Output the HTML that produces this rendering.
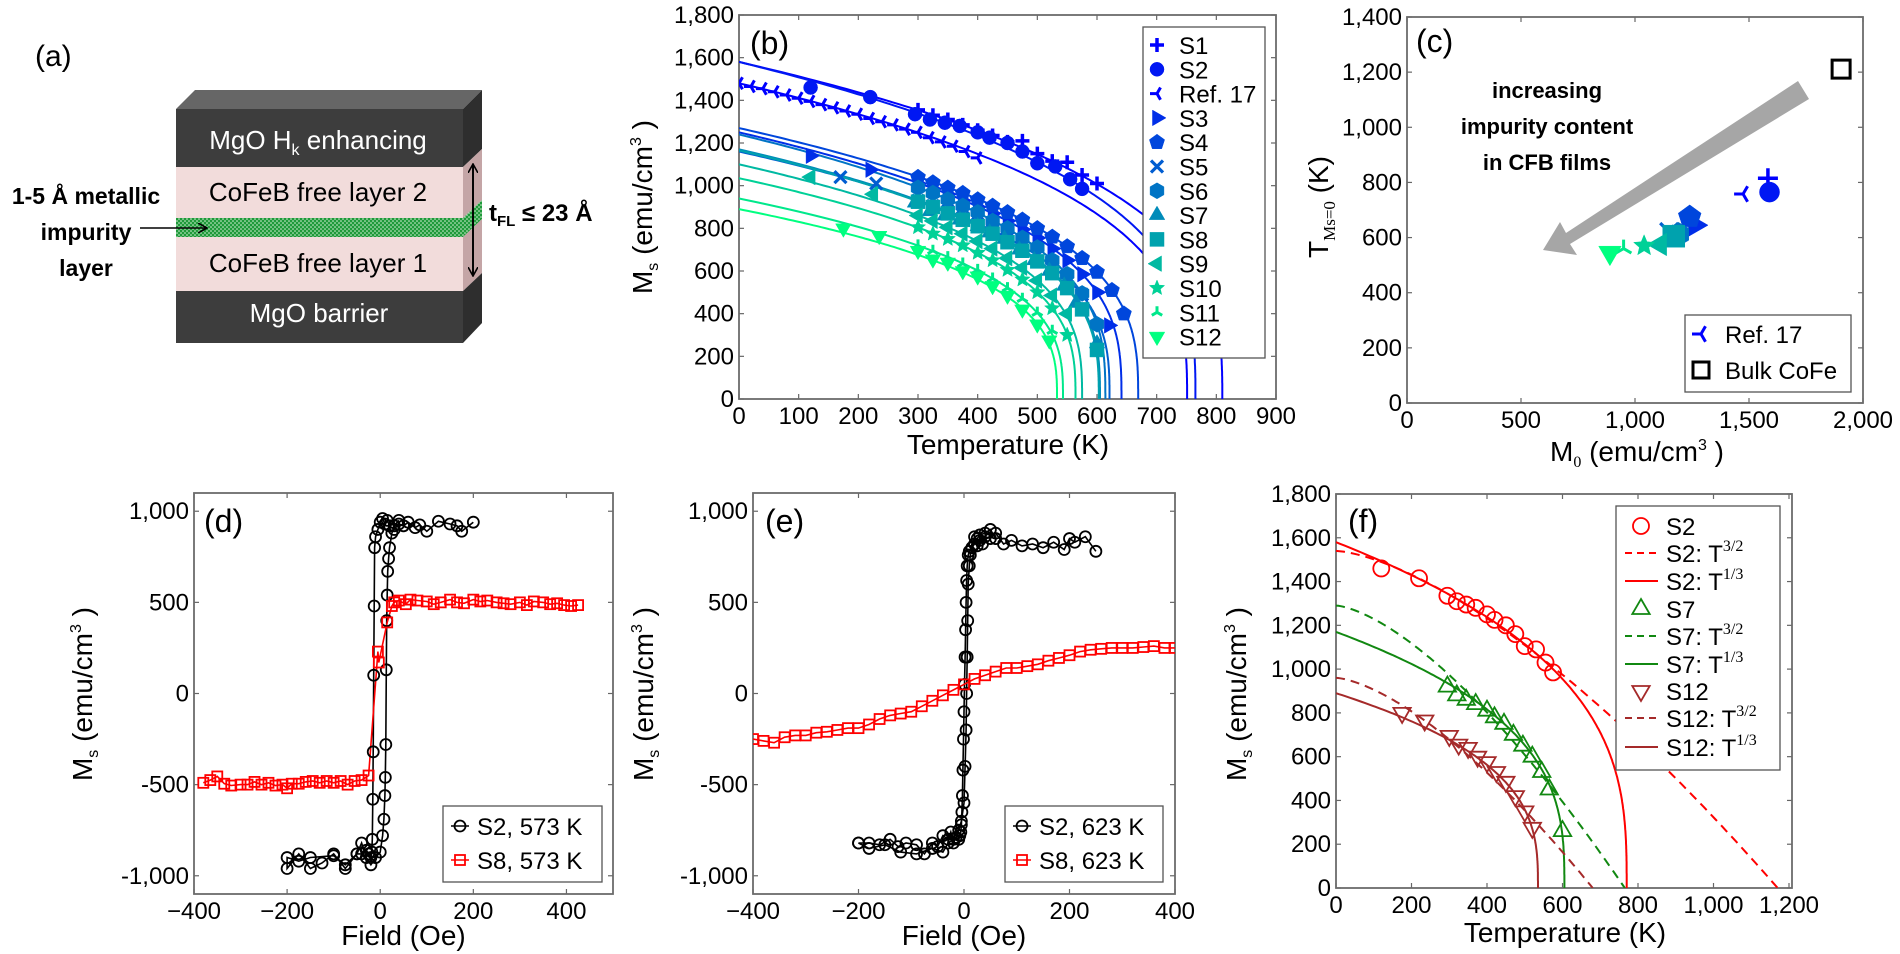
<!DOCTYPE html>
<html><head><meta charset="utf-8"><title>CoFeB free layer impurity study</title>
<style>
html,body{margin:0;padding:0;background:#fff;}
svg{display:block;font-family:"Liberation Sans",sans-serif;}
</style></head>
<body>
<svg id="fig" width="1900" height="954" viewBox="0 0 1900 954" xmlns="http://www.w3.org/2000/svg">
<defs>
<pattern id="dots" width="4" height="4" patternUnits="userSpaceOnUse">
<rect width="4" height="4" fill="#1f9a3a"/><circle cx="1" cy="1" r="0.8" fill="#d8f0d8"/><circle cx="3" cy="3" r="0.8" fill="#d8f0d8"/>
</pattern>
<clipPath id="clipB"><rect x="739" y="15" width="537" height="384"/></clipPath>
<clipPath id="clipD"><rect x="194" y="493" width="419" height="401"/></clipPath>
<clipPath id="clipE"><rect x="753" y="493" width="422" height="401"/></clipPath>
<clipPath id="clipF"><rect x="1336" y="494" width="456" height="394"/></clipPath>
<marker id="ah" markerWidth="10" markerHeight="10" refX="9" refY="5" orient="auto" markerUnits="userSpaceOnUse"><path d="M0,0 L9,5 L0,10" fill="none" stroke="#000" stroke-width="1.6"/></marker>
</defs>

<!-- Panel (a) -->
<g>
<text x="35" y="66" font-size="30">(a)</text>
<polygon points="176,109 195,90 482,90 463,109" fill="#666"/>
<polygon points="463,109 482,90 482,149 463,167" fill="#2e2e2e"/>
<polygon points="463,167 482,149 482,200 463,218" fill="#c4a5a6"/>
<polygon points="463,218 482,200 482,219 463,237" fill="url(#dots)"/>
<polygon points="463,237 482,219 482,273 463,291" fill="#c4a5a6"/>
<polygon points="463,291 482,273 482,323 463,343" fill="#2e2e2e"/>
<rect x="176" y="109" width="287" height="58" fill="#3d3d3d"/>
<rect x="176" y="167" width="287" height="51" fill="#f2dcdb"/>
<rect x="176" y="218" width="287" height="19" fill="url(#dots)"/>
<rect x="176" y="237" width="287" height="54" fill="#f2dcdb"/>
<rect x="176" y="291" width="287" height="52" fill="#3d3d3d"/>
<text x="318" y="149" font-size="26" fill="#fff" text-anchor="middle">MgO  H<tspan font-size="16" dy="6">k</tspan><tspan dy="-6"> enhancing</tspan></text>
<text x="318" y="201" font-size="26" fill="#000" text-anchor="middle">CoFeB free layer 2</text>
<text x="318" y="272" font-size="26" fill="#000" text-anchor="middle">CoFeB free layer 1</text>
<text x="319" y="322" font-size="26" fill="#fff" text-anchor="middle">MgO barrier</text>
<g font-size="23" font-weight="bold" text-anchor="middle">
<text x="86" y="204">1-5 Å metallic</text>
<text x="86" y="240">impurity</text>
<text x="86" y="276">layer</text>
</g>
<line x1="140" y1="228" x2="207" y2="228" stroke="#000" stroke-width="1.6" marker-end="url(#ah)"/>
<line x1="473" y1="164" x2="473" y2="276" stroke="#000" stroke-width="1.8" marker-end="url(#ah)"/>
<line x1="473" y1="276" x2="473" y2="164" stroke="#000" stroke-width="1.8" marker-end="url(#ah)"/>
<text x="489" y="221" font-size="24" font-weight="bold">t<tspan font-size="15" dy="5">FL</tspan><tspan dy="-5"> ≤ 23 Å</tspan></text>
</g>
</svg>
<script>
// ================= DATA =================
// Panel (b): Ms vs T, order: S1,S2,Ref17,S3..S12
const bS1_T=[300,325,350,375,400,425,450,475,500,525,550,575,600];
const bS1_M=[1355,1330,1310,1285,1260,1235,1205,1210,1150,1115,1110,1050,1010];
const bS2_T=[120,220,295,320,345,370,400,420,450,475,500,530,555,575];
const bS2_M=[1460,1415,1335,1310,1295,1280,1250,1225,1200,1160,1105,1090,1030,985];
const bRef_T=[0,20,40,60,80,100,120,140,160,180,200,220,240,260,280,300,320,340,360,380,400];
const bRef_M=[1480,1465,1455,1440,1425,1410,1395,1380,1365,1350,1335,1315,1300,1285,1265,1250,1225,1205,1185,1160,1130];
const bS3_T=[120,220,300,325,350,375,400,425,450,475,500,525,550,575,600,620];
const bS3_M=[1140,1075,1010,985,960,930,900,870,835,795,755,705,650,585,500,345];
const bS4_T=[300,325,350,375,400,425,450,475,500,525,550,575,600,625,645];
const bS4_M=[1040,1015,990,965,935,905,875,840,800,760,715,660,595,510,400];
const bS5_T=[170,230,300,325,350,375,400,425,450,475,500,525,550,575];
const bS5_M=[1040,1010,930,905,880,850,820,790,755,715,675,625,565,490];
const bS6_T=[300,325,350,375,400,425,450,475,500,525,550,575,600];
const bS6_M=[990,965,935,905,875,835,800,755,710,650,585,495,350];
const bS7_T=[295,320,345,370,400,420,445,470,495,520,545,565,600];
const bS7_M=[920,880,860,840,810,780,750,700,650,600,530,450,260];
const bS8_T=[300,325,350,375,400,425,450,475,500,525,550,575,600];
const bS8_M=[925,900,870,840,810,775,735,695,645,590,520,420,230];
const bS9_T=[120,225,300,325,350,375,400,425,450,475,500,525,550];
const bS9_M=[1040,960,860,835,805,775,740,705,660,615,555,485,400];
const bS10_T=[300,325,350,375,400,425,450,475,500,525,550];
const bS10_M=[805,775,750,720,685,650,605,560,500,425,300];
const bS11_T=[300,325,350,375,400,425,450,475,500,525];
const bS11_M=[720,695,665,635,605,565,520,470,405,320];
const bS12_T=[175,235,300,325,350,375,400,425,450,475,500,520];
const bS12_M=[800,765,695,655,640,600,575,530,485,420,350,275];
const bFitM0=[1580,1580,1480,1250,1270,1160,1240,1170,1165,1100,1035,940,890];
const bFitTc=[810,765,751,641,669,621,614,605,603,575,564,543,533];
const bNames=['S1','S2','Ref. 17','S3','S4','S5','S6','S7','S8','S9','S10','S11','S12'];
const bXTicks=[0,100,200,300,400,500,600,700,800,900];
const bYTicks=[0,200,400,600,800,1000,1200,1400,1600,1800];
const bXLabels=['0','100','200','300','400','500','600','700','800','900'];
const bYLabels=['0','200','400','600','800','1,000','1,200','1,400','1,600','1,800'];
// Panel (c): T(Ms=0) vs M0
const cM0=[1583,1590,1474,1263,1240,1150,1190,1165,1170,1110,1040,950,890];
const cTc=[815,765,758,645,675,620,612,600,605,575,570,560,545];
const cBulkM0=[1904];
const cBulkT=[1211];
const cXTicks=[0,500,1000,1500,2000];
const cXLabels=['0','500','1,000','1,500','2,000'];
const cYTicks=[0,200,400,600,800,1000,1200,1400];
const cYLabels=['0','200','400','600','800','1,000','1,200','1,400'];
// Panel (d): hysteresis 573 K
const dS2_H=[200,175,165,150,125,100,85,75,60,50,40,30,20,15,10,5,0,-5,-10,-12,-13,-14,-15,-16,-17,-18,-20,-25,-30,-40,-50,-75,-100,-125,-150,-175,-200,-200,-175,-150,-100,-75,-50,-40,-30,-20,-10,0,5,8,10,11,12,13,14,15,16,18,20,25,30,40];
const dS2_M=[940,890,920,930,945,890,925,910,940,920,930,900,920,950,930,960,940,900,860,800,480,100,-320,-580,-800,-870,-900,-880,-860,-880,-880,-960,-880,-930,-960,-880,-960,-900,-920,-900,-890,-940,-880,-820,-900,-940,-900,-870,-780,-690,-560,-460,-280,130,400,540,670,740,800,880,920,950];
const dS8_H=[-380,-365,-350,-335,-320,-300,-285,-270,-255,-240,-225,-210,-200,-190,-175,-160,-145,-130,-115,-100,-85,-70,-55,-40,-25,-5,-3,15,25,30,40,55,65,80,100,115,130,150,165,180,200,215,230,250,265,280,300,315,330,350,365,380,395,410,425];
const dS8_M=[-490,-475,-455,-495,-505,-500,-500,-485,-500,-490,-505,-500,-520,-495,-495,-485,-480,-490,-480,-490,-480,-500,-480,-475,-450,230,170,390,480,500,510,490,515,510,505,490,500,515,500,495,515,505,510,500,495,490,500,485,505,500,490,495,485,480,485];
const dXTicks=[-400,-200,0,200,400];
const dXLabels=['\u2212400','\u2212200','0','200','400'];
const dYTicks=[-1000,-500,0,500,1000];
const dYLabels=['-1,000','-500','0','500','1,000'];
// Panel (e): hysteresis 623 K
const eS2_H=[250,230,210,200,190,170,150,130,110,90,75,60,50,40,35,30,25,20,15,10,8,6,5,4,3,2,1,0,-1,-2,-3,-4,-5,-6,-8,-10,-15,-20,-25,-30,-40,-50,-60,-75,-90,-110,-125,-140,-160,-180,-200,-200,-180,-150,-120,-90,-60,-40,-30,-20,-15,-10,-5,0,2,4,5,6,7,8,10,12,15,20,25,30,40,50,60];
const eS2_M=[780,860,830,850,790,830,800,820,810,840,820,880,850,860,820,840,810,860,800,780,760,700,620,500,350,200,50,-100,-250,-420,-560,-650,-720,-760,-780,-800,-790,-820,-760,-800,-780,-840,-820,-880,-830,-820,-840,-800,-830,-820,-820,-820,-850,-830,-870,-880,-850,-870,-820,-800,-790,-750,-700,-600,-400,-200,0,200,400,600,700,760,800,820,850,870,880,900,850];
const eS8_H=[-400,-380,-360,-340,-320,-300,-280,-260,-240,-220,-200,-180,-160,-140,-120,-100,-80,-60,-40,-20,0,20,40,60,80,100,120,140,160,180,200,220,240,260,280,300,320,340,360,380,400];
const eS8_M=[-250,-260,-270,-240,-230,-230,-215,-210,-200,-190,-190,-170,-140,-120,-110,-100,-70,-40,-10,20,50,80,100,120,140,140,150,160,180,195,210,230,240,245,250,250,250,255,260,250,250];
const eXTicks=[-400,-200,0,200,400];
const eXLabels=['\u2212400','\u2212200','0','200','400'];
// Panel (f)
const fS2_T=[120,220,295,320,345,370,400,420,450,475,500,530,555,575];
const fS2_M=[1460,1415,1335,1310,1295,1280,1250,1225,1200,1160,1105,1090,1030,985];
const fS7_T=[295,320,345,370,400,420,445,470,495,520,545,565,600];
const fS7_M=[920,880,860,840,810,780,750,700,650,600,530,450,260];
const fS12_T=[175,235,300,325,350,375,400,425,450,475,500,520];
const fS12_M=[800,765,695,655,640,600,575,530,485,420,350,275];
const fSolidM0=[1580,1170,890];
const fSolidTc=[770,605,535];
const fDashM0=[1540,1290,960];
const fDashT0=[1170,765,680];
const fXTicks=[0,200,400,600,800,1000,1200];
const fXLabels=['0','200','400','600','800','1,000','1,200'];
const fYTicks=[0,200,400,600,800,1000,1200,1400,1600,1800];
const fYLabels=['0','200','400','600','800','1,000','1,200','1,400','1,600','1,800'];

// ================= DRAWING =================
const NS='http://www.w3.org/2000/svg';
const svg=document.getElementById('fig');
function mk(tag,attrs,parent){const e=document.createElementNS(NS,tag);for(const k in attrs)e.setAttribute(k,attrs[k]);(parent||svg).appendChild(e);return e;}
function txt(parent,str,x,y,size,anchor){const t=mk('text',{x:x,y:y,'font-size':size,'text-anchor':anchor||'start',fill:'#000'},parent);t.textContent=str;return t;}
function poly(n,s,rot,x,y){let p=[];for(let k=0;k<n;k++){const a=(rot+k*360/n)*Math.PI/180;p.push((x+s*Math.cos(a)).toFixed(1)+','+(y+s*Math.sin(a)).toFixed(1));}return p.join(' ');}
function starPts(s,x,y){let p=[];for(let k=0;k<10;k++){const r=k%2?s*0.45:s;const a=(-90+k*36)*Math.PI/180;p.push((x+r*Math.cos(a)).toFixed(1)+','+(y+r*Math.sin(a)).toFixed(1));}return p.join(' ');}
function spokes(s,x,y,rot){let d='';for(let k=0;k<3;k++){const a=(rot+k*120)*Math.PI/180;d+=`M${x},${y}L${(x+s*Math.cos(a)).toFixed(1)},${(y+s*Math.sin(a)).toFixed(1)}`;}return d;}
function marker(parent,type,x,y,s,color,open){
  const fill=open?'none':color, sw=open?1.8:0.5;
  if(type==='circle')return mk('circle',{cx:x,cy:y,r:s,fill:fill,stroke:color,'stroke-width':sw},parent);
  if(type==='square')return mk('rect',{x:x-s,y:y-s,width:2*s,height:2*s,fill:fill,stroke:color,'stroke-width':sw},parent);
  if(type==='plus')return mk('path',{d:`M${x-s},${y}H${x+s}M${x},${y-s}V${y+s}`,stroke:color,'stroke-width':3.5,fill:'none'},parent);
  if(type==='x')return mk('path',{d:`M${x-s},${y-s}L${x+s},${y+s}M${x-s},${y+s}L${x+s},${y-s}`,stroke:color,'stroke-width':3.2,fill:'none'},parent);
  if(type==='tri_up')return mk('polygon',{points:poly(3,s,-90,x,y),fill:fill,stroke:color,'stroke-width':sw},parent);
  if(type==='tri_down')return mk('polygon',{points:poly(3,s,90,x,y),fill:fill,stroke:color,'stroke-width':sw},parent);
  if(type==='tri_left')return mk('polygon',{points:poly(3,s,180,x,y),fill:fill,stroke:color,'stroke-width':sw},parent);
  if(type==='tri_right')return mk('polygon',{points:poly(3,s,0,x,y),fill:fill,stroke:color,'stroke-width':sw},parent);
  if(type==='pentagon')return mk('polygon',{points:poly(5,s,-90,x,y),fill:fill,stroke:color,'stroke-width':sw},parent);
  if(type==='hexagon')return mk('polygon',{points:poly(6,s,-90,x,y),fill:fill,stroke:color,'stroke-width':sw},parent);
  if(type==='star')return mk('polygon',{points:starPts(s,x,y),fill:fill,stroke:color,'stroke-width':sw},parent);
  if(type==='spoke_left')return mk('path',{d:spokes(s,x,y,180),stroke:color,'stroke-width':3,fill:'none'},parent);
  if(type==='spoke_up')return mk('path',{d:spokes(s,x,y,-90),stroke:color,'stroke-width':3,fill:'none'},parent);
}
function axes(name,L,R,T,B,X,Y,xt,xl,yt,yl){
  const g=mk('g',{});
  
  
  xt.forEach((v,i)=>{const x=X(v);
    mk('line',{x1:x,y1:B,x2:x,y2:B-5,stroke:'#666','stroke-width':1.2},g);
    mk('line',{x1:x,y1:T,x2:x,y2:T+5,stroke:'#666','stroke-width':1.2},g);
    const t=txt(g,xl[i],x,B+25,24,'middle');
    
    
  });
  yt.forEach((v,i)=>{const y=Y(v);
    mk('line',{x1:L,y1:y,x2:L+5,y2:y,stroke:'#666','stroke-width':1.2},g);
    mk('line',{x1:R,y1:y,x2:R-5,y2:y,stroke:'#666','stroke-width':1.2},g);
    const t=txt(g,yl[i],L-5,y+8,24,'end');
    
    
  });
  const fr=mk('rect',{x:L,y:T,width:R-L,height:B-T,fill:'none',stroke:'#6b6b6b','stroke-width':1.8},g);
  
  
  return g;
}
function msTitle(x,y,name){
  const t=mk('text',{x:0,y:0,'font-size':28,'text-anchor':'middle',transform:`translate(${x},${y}) rotate(-90)`});
  t.innerHTML='M<tspan font-size="16" dy="6">s</tspan><tspan dy="-6"> (emu/cm</tspan><tspan font-size="16" dy="-11">3</tspan><tspan dy="11"> )</tspan>';
  
  
}
function fitPath(M0,Tc,X,Y){let d='';for(let i=0;i<=200;i++){const u=i/200;const T=Tc*(1-Math.pow(1-u,3));const M=M0*Math.cbrt(Math.max(0,1-T/Tc));d+=(i?'L':'M')+X(T).toFixed(1)+','+Y(M).toFixed(1);}return d;}
function dashPath(M0,T0,X,Y){let d='';for(let i=0;i<=120;i++){const T=T0*i/120;const M=M0*(1-Math.pow(T/T0,1.5));d+=(i?'L':'M')+X(T).toFixed(1)+','+Y(M).toFixed(1);}return d;}
function rgb(k){const t=k/11;return `rgb(0,${Math.round(255*t)},${Math.round(255*(1-0.5*t))})`;}

// ---------- Panel (b) ----------
(function(){
  const L=739,R=1276,T=15,B=399;
  const X=v=>L+v*(R-L)/900, Y=v=>B-v*(B-T)/1800;
  axes('panel-b',L,R,T,B,X,Y,bXTicks,bXLabels,bYTicks,bYLabels);
  const cols=[rgb(0),rgb(1),'rgb(0,0,255)',rgb(2),rgb(3),rgb(4),rgb(5),rgb(6),rgb(7),rgb(8),rgb(9),rgb(10),rgb(11)];
  const types=['plus','circle','spoke_left','tri_right','pentagon','x','hexagon','tri_up','square','tri_left','star','spoke_up','tri_down'];
  const sizes=[7,7,7,9,8,6,8,9,7,9,8,6,9];
  const Ts=[bS1_T,bS2_T,bRef_T,bS3_T,bS4_T,bS5_T,bS6_T,bS7_T,bS8_T,bS9_T,bS10_T,bS11_T,bS12_T];
  const Ms=[bS1_M,bS2_M,bRef_M,bS3_M,bS4_M,bS5_M,bS6_M,bS7_M,bS8_M,bS9_M,bS10_M,bS11_M,bS12_M];
  const gc=mk('g',{'clip-path':'url(#clipB)'});
  
  
  for(let i=0;i<13;i++){
    const p=mk('path',{d:fitPath(bFitM0[i],bFitTc[i],X,Y),fill:'none',stroke:cols[i],'stroke-width':2},gc);
    
    
  }
  for(let i=0;i<13;i++){
    Ts[i].forEach((t,j)=>{
      const m=marker(gc,types[i],X(t),Y(Ms[i][j]),sizes[i],cols[i],false);
      
      
    });
  }
  const lab=txt(svg,'(b)',750,54,32,'start');
  
  
  const lg=mk('g',{});
  
  
  mk('rect',{x:1143,y:27,width:122,height:331,fill:'#fff',stroke:'#555','stroke-width':1.3},lg);
  for(let i=0;i<13;i++){
    const y=45+i*24.3;
    const m=marker(lg,types[i],1157,y,sizes[i],cols[i],false);
    
    
    const t=txt(lg,bNames[i],1179,y+9,24,'start');
    
    
  }
  const xt=txt(svg,'Temperature (K)',1008,454,28,'middle');
  
  
  msTitle(652,207,'panel-b-y-axis-title');
})();

// ---------- Panel (c) ----------
(function(){
  const L=1407,R=1863,T=17,B=403;
  const X=v=>L+v*(R-L)/2000, Y=v=>B-v*(B-T)/1400;
  axes('panel-c',L,R,T,B,X,Y,cXTicks,cXLabels,cYTicks,cYLabels);
  const ar=mk('polygon',{points:'1798,81 1809,99 1570,244 1577,255 1543,250 1560,222 1566,233',fill:'#a6a6a6'});
  
  
  const tg=mk('g',{'font-size':22,'font-weight':'bold'});
  
  
  txt(tg,'increasing',1547,98,22,'middle');
  txt(tg,'impurity content',1547,134,22,'middle');
  txt(tg,'in CFB films',1547,170,22,'middle');
  const cols=['rgb(0,0,255)',rgb(1),'rgb(0,0,255)',rgb(2),rgb(3),rgb(4),rgb(5),rgb(6),rgb(7),rgb(8),rgb(9),rgb(10),rgb(11)];
  const types=['plus','circle','spoke_left','tri_right','pentagon','x','hexagon','tri_up','square','tri_left','star','spoke_up','tri_down'];
  const sizes=[10,10,9,13,12,9,12,13,11,13,11,9,13];
  for(let i=0;i<13;i++){
    const m=marker(svg,types[i],X(cM0[i]),Y(cTc[i]),sizes[i],cols[i],false);
    
    
  }
  cBulkM0.forEach((v,i)=>{
    const m=mk('rect',{x:X(v)-9,y:Y(cBulkT[i])-9,width:18,height:18,fill:'none',stroke:'#000','stroke-width':3});
    
    
  });
  const lab=txt(svg,'(c)',1416,52,32,'start');
  
  
  const lg=mk('g',{});
  
  
  mk('rect',{x:1685,y:315,width:166,height:77,fill:'#fff',stroke:'#555','stroke-width':1.3},lg);
  const m1=marker(lg,'spoke_left',1701,334,9,'rgb(0,0,255)',false);
  
  
  const t1=txt(lg,'Ref. 17',1725,343,24,'start');
  
  
  const m2=mk('rect',{x:1693,y:362,width:16,height:16,fill:'none',stroke:'#000','stroke-width':3},lg);
  
  
  const t2=txt(lg,'Bulk CoFe',1725,379,24,'start');
  
  
  const xt=mk('text',{x:1637,y:461,'font-size':28,'text-anchor':'middle'});
  xt.innerHTML='M<tspan font-size="16" dy="6" font-family="Liberation Serif">0</tspan><tspan dy="-6"> (emu/cm</tspan><tspan font-size="16" dy="-11">3</tspan><tspan dy="11"> )</tspan>';
  
  
  const yt=mk('text',{x:0,y:0,'font-size':28,'text-anchor':'middle',transform:'translate(1328,207) rotate(-90)'});
  yt.innerHTML='T<tspan font-size="17" dy="7" font-family="Liberation Serif">Ms=0</tspan><tspan dy="-7"> (K)</tspan>';
  
  
})();

// ---------- Panels (d),(e) ----------
function loopPanel(name,L,R,xmin,xmax,xt,xl,clip,H2,M2,H8,M8,lab,lx,labels,lgx,lgw){
  const T=493,B=894;
  const X=v=>L+(v-xmin)*(R-L)/(xmax-xmin), Y=v=>(T+B)/2-v*(B-T)/2200;
  axes(name,L,R,T,B,X,Y,xt,xl,dYTicks,dYLabels);
  const gc=mk('g',{'clip-path':clip});
  
  
  const p2=mk('polyline',{points:H2.map((h,i)=>X(h).toFixed(1)+','+Y(M2[i]).toFixed(1)).join(' '),fill:'none',stroke:'#000','stroke-width':1.6},gc);
  
  
  const p8=mk('polyline',{points:H8.map((h,i)=>X(h).toFixed(1)+','+Y(M8[i]).toFixed(1)).join(' '),fill:'none',stroke:'#f00','stroke-width':1.6},gc);
  
  
  H2.forEach((h,i)=>{const m=marker(gc,'circle',X(h),Y(M2[i]),5.5,'#000',true);
    
    });
  H8.forEach((h,i)=>{const m=marker(gc,'square',X(h),Y(M8[i]),5,'#f00',true);
    
    });
  const l=txt(svg,lab,lx,532,32,'start');
  
  
  const lg=mk('g',{});
  
  
  mk('rect',{x:lgx,y:806,width:lgw,height:76,fill:'#fff',stroke:'#555','stroke-width':1.3},lg);
  mk('line',{x1:lgx+8,y1:826,x2:lgx+26,y2:826,stroke:'#000','stroke-width':1.5},lg);
  const a=marker(lg,'circle',lgx+17,826,5.5,'#000',true);
  
  
  const t1=txt(lg,labels[0],lgx+34,835,24,'start');
  
  
  mk('line',{x1:lgx+8,y1:860,x2:lgx+26,y2:860,stroke:'#f00','stroke-width':1.5},lg);
  const b=marker(lg,'square',lgx+17,860,5,'#f00',true);
  
  
  const t2=txt(lg,labels[1],lgx+34,869,24,'start');
  
  
  const xtt=txt(svg,'Field (Oe)',(L+R)/2+(name==='panel-d'?-0:0),945,28,'middle');
  
  
}
loopPanel('panel-d',194,613,-400,500,dXTicks,dXLabels,'url(#clipD)',dS2_H,dS2_M,dS8_H,dS8_M,'(d)',204,['S2, 573 K','S8, 573 K'],443,159);
msTitle(92,694,'panel-d-y-axis-title');
loopPanel('panel-e',753,1175,-400,400,eXTicks,eXLabels,'url(#clipE)',eS2_H,eS2_M,eS8_H,eS8_M,'(e)',765,['S2, 623 K','S8, 623 K'],1005,158);
msTitle(653,694,'panel-e-y-axis-title');

// ---------- Panel (f) ----------
(function(){
  const L=1336,R=1792,T=494,B=888;
  const X=v=>L+v*(453/1200), Y=v=>B-v*(B-T)/1800;
  axes('panel-f',L,R,T,B,X,Y,fXTicks,fXLabels,fYTicks,fYLabels);
  const cols=['#ff0000','#118811','#a52a2a'];
  const nm=['s2','s7','s12'];
  const types=['circle','tri_up','tri_down'];
  const Ts=[fS2_T,fS7_T,fS12_T], Ms=[fS2_M,fS7_M,fS12_M];
  const gc=mk('g',{'clip-path':'url(#clipF)'});
  
  
  for(let i=0;i<3;i++){
    const dp=mk('path',{d:dashPath(fDashM0[i],fDashT0[i],X,Y),fill:'none',stroke:cols[i],'stroke-width':2,'stroke-dasharray':'9,6'},gc);
    
    
    const sp=mk('path',{d:fitPath(fSolidM0[i],fSolidTc[i],X,Y),fill:'none',stroke:cols[i],'stroke-width':2},gc);
    
    
    Ts[i].forEach((t,j)=>{const m=marker(gc,types[i],X(t),Y(Ms[i][j]),i===0?8:10,cols[i],true);
      
      });
  }
  const lab=txt(svg,'(f)',1348,532,32,'start');
  
  
  const lg=mk('g',{});
  
  
  mk('rect',{x:1616,y:506,width:164,height:264,fill:'#fff',stroke:'#555','stroke-width':1.3},lg);
  const rows=[526,553,581,609,636,664,691,718,747];
  for(let i=0;i<3;i++){
    const y0=rows[i*3],y1=rows[i*3+1],y2=rows[i*3+2];
    const m=marker(lg,types[i],1641,y0,i===0?8:10,cols[i],true);
    
    
    const t0=txt(lg,nm[i].toUpperCase(),1666,y0+9,24,'start');
    
    
    mk('line',{x1:1625,y1:y1,x2:1658,y2:y1,stroke:cols[i],'stroke-width':2,'stroke-dasharray':'7,5'},lg);
    const t1=mk('text',{x:1666,y:y1+9,'font-size':24},lg);
    t1.innerHTML=nm[i].toUpperCase()+': T<tspan font-size="16" dy="-11" font-family="Liberation Serif">3/2</tspan>';
    
    
    mk('line',{x1:1625,y1:y2,x2:1658,y2:y2,stroke:cols[i],'stroke-width':2},lg);
    const t2=mk('text',{x:1666,y:y2+9,'font-size':24},lg);
    t2.innerHTML=nm[i].toUpperCase()+': T<tspan font-size="16" dy="-11" font-family="Liberation Serif">1/3</tspan>';
    
    
  }
  const xt=txt(svg,'Temperature (K)',1565,942,28,'middle');
  
  
  msTitle(1246,694,'panel-f-y-axis-title');
})();
</script>
</body></html>
